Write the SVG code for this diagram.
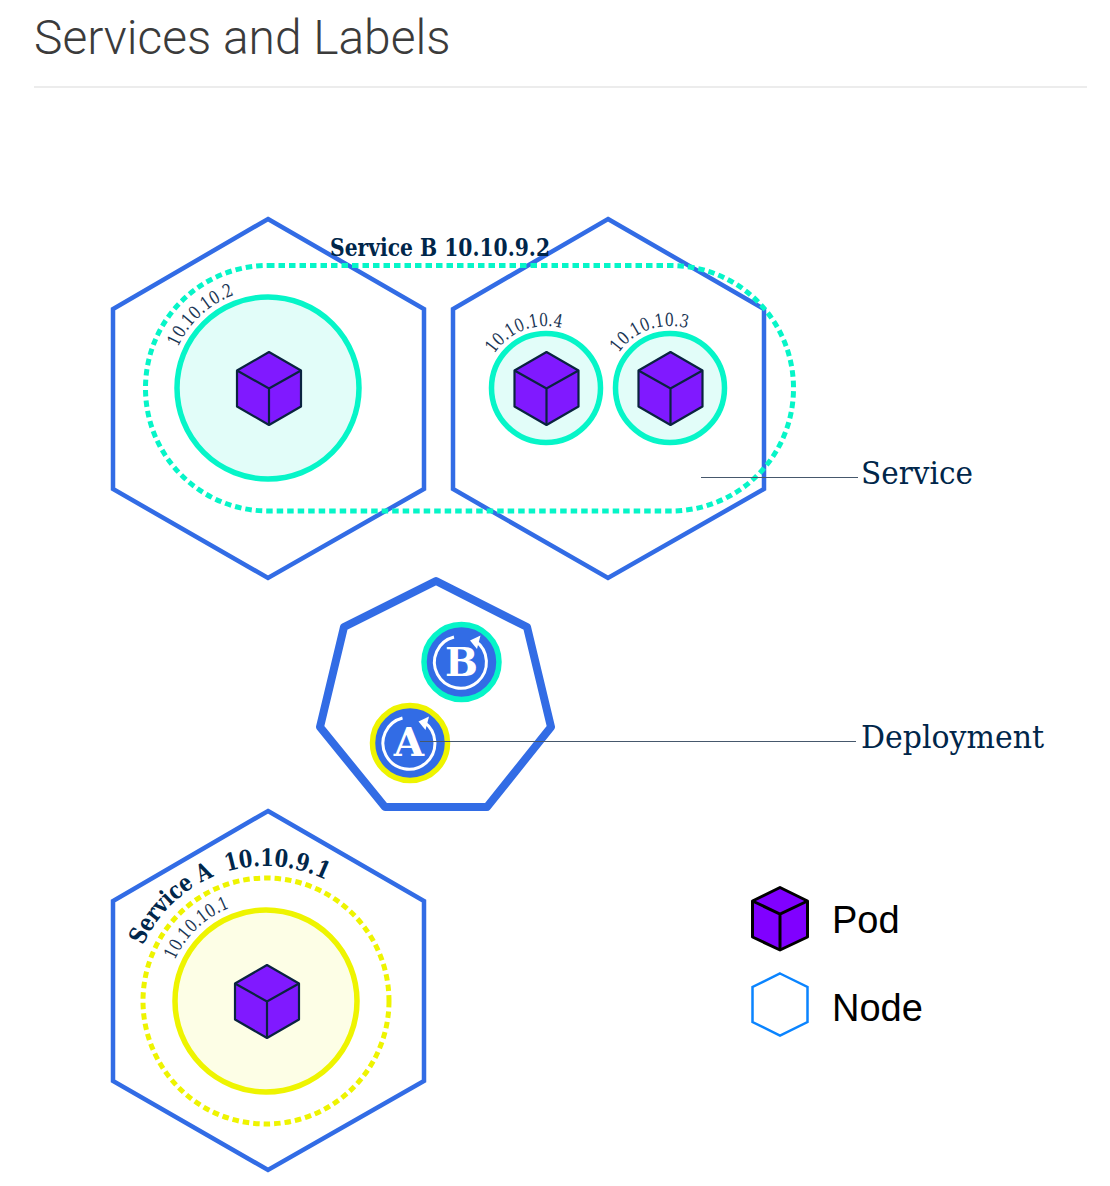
<svg xmlns="http://www.w3.org/2000/svg" width="1110" height="1186" viewBox="0 0 1110 1186">
<style>
.hex{fill:none;stroke:#326ce5;stroke-width:4.5;stroke-linejoin:miter}
.cyan{fill:#e2fdf9;stroke:#06f5c8;stroke-width:5.500}
.yel{fill:#fdfee6;stroke:#eef400;stroke-width:5.500}
.dc{fill:none;stroke:#06f5c8;stroke-width:5;stroke-dasharray:6.500 4}
.dy{fill:none;stroke:#eef400;stroke-width:5;stroke-dasharray:6.500 4}
.ip{font-family:"DejaVu Serif",serif;font-size:18px;font-weight:200;fill:#1b3654;}
.svc{font-family:"DejaVu Serif",serif;font-size:24px;font-weight:700;fill:#00264a}
.lab{font-family:"DejaVu Serif",serif;font-size:32px;fill:#00264a}
.leg{font-family:"Liberation Sans",Arial,sans-serif;font-size:38px;fill:#000}
.conn{stroke:#46586c;stroke-width:1.200;fill:none}
.let{font-family:"DejaVu Serif",serif;font-weight:700;font-size:39px;fill:#fff;text-anchor:middle}
</style>
<defs>
<g id="cube">
<path d="M0,-36.500L32,-18V18L0,36.500L-32,18V-18Z" fill="#8019ff" stroke="#0a2340" stroke-width="2.200" stroke-linejoin="round"/>
<path d="M-32,-18L0,0L32,-18M0,0V36.500" fill="none" stroke="#0a2340" stroke-width="2.200"/>
</g>
<g id="ring">
<path d="M-7.500,-25 A26,26 0 1 0 14,-21" fill="none" stroke="#fff" stroke-width="3"/>
<path d="M8.500,-21.500L19,-26.500L15.500,-13Z" fill="#fff"/>
</g>
<path id="p102" d="M169,388A99,99 0 1 1 367,388"/>
<path id="p104" d="M484,388A62,62 0 1 1 608,388"/>
<path id="p103" d="M608,388A62,62 0 1 1 732,388"/>
<path id="p101" d="M166,1001A100,100 0 1 1 366,1001"/>
<path id="psa" d="M131,1001A135,135 0 1 1 401,1001"/>
</defs>
<g id="title">
<text x="34" y="54" font-family="Roboto,sans-serif" font-weight="300" font-size="47.900" fill="#3b3b3b">Services and Labels</text>
<line x1="34" y1="87" x2="1087" y2="87" stroke="#e6e6e6" stroke-width="1.500"/>
</g>
<g id="node-1"><polygon class="hex" points="268,219 424,309 424,489 268,578 113,489 113,309"/></g>
<g id="node-2"><polygon class="hex" points="608,219 764,309 764,489 608,578 453,489 453,309"/></g>
<g id="service-b">
<rect class="dc" x="145.500" y="265.500" width="648" height="245.500" rx="122.500" ry="122.500"/>
<text class="svc" x="330" y="256" textLength="220" lengthAdjust="spacingAndGlyphs">Service B 10.10.9.2</text>
</g>
<g id="pod-102">
<circle class="cyan" cx="268" cy="388" r="91"/>
<use href="#cube" x="269" y="388.500"/>
<text class="ip"><textPath href="#p102" startOffset="42" textLength="79" lengthAdjust="spacingAndGlyphs">10.10.10.2</textPath></text>
</g>
<g id="pod-104">
<circle class="cyan" cx="546" cy="388" r="54.500"/>
<use href="#cube" x="546.500" y="388.500"/>
<text class="ip"><textPath href="#p104" startOffset="36" textLength="77" lengthAdjust="spacingAndGlyphs">10.10.10.4</textPath></text>
</g>
<g id="pod-103">
<circle class="cyan" cx="670" cy="388" r="54.500"/>
<use href="#cube" x="670.500" y="388.500"/>
<text class="ip"><textPath href="#p103" startOffset="37" textLength="78" lengthAdjust="spacingAndGlyphs">10.10.10.3</textPath></text>
</g>
<g id="deployment">
<polygon points="436,581 527,627 551,727 487,807 385,807 320,727 344,627" fill="none" stroke="#326ce5" stroke-width="8" stroke-linejoin="round"/>
</g>
<g id="deploy-b">
<circle cx="461.500" cy="662" r="37.500" fill="#326ce5" stroke="#06f5c8" stroke-width="5.500"/>
<use href="#ring" x="461.500" y="662"/>
<text class="let" x="461.500" y="676">B</text>
</g>
<g id="deploy-a">
<circle cx="410" cy="743" r="37.500" fill="#326ce5" stroke="#eef400" stroke-width="5.500"/>
<use href="#ring" x="410" y="743"/>
<text class="let" x="409" y="756">A</text>
</g>
<g id="connectors">
<line class="conn" x1="701" y1="477.500" x2="858" y2="477.500"/>
<line class="conn" x1="420" y1="741.500" x2="856" y2="741.500"/>
</g>
<g id="label-service"><text class="lab" x="861" y="484" textLength="112" lengthAdjust="spacingAndGlyphs">Service</text></g>
<g id="label-deployment"><text class="lab" x="861" y="748" textLength="183" lengthAdjust="spacingAndGlyphs">Deployment</text></g>
<g id="node-3"><polygon class="hex" points="268,811 424,901 424,1081 268,1170 113,1081 113,901"/></g>
<g id="service-a">
<circle class="dy" cx="266" cy="1001" r="123"/>
<text class="svc"><textPath href="#psa" startOffset="57" textLength="217" lengthAdjust="spacingAndGlyphs" xml:space="preserve">Service A  10.10.9.1</textPath></text>
</g>
<g id="pod-101">
<circle class="yel" cx="266" cy="1001" r="91"/>
<use href="#cube" x="267" y="1001.500"/>
<text class="ip"><textPath href="#p101" startOffset="42" textLength="78" lengthAdjust="spacingAndGlyphs">10.10.10.1</textPath></text>
</g>
<g id="legend-pod">
<path d="M780,887.500L807.500,901V937L780,950L752.500,937V901Z" fill="#8000ff" stroke="#000" stroke-width="3" stroke-linejoin="round"/>
<path d="M752.500,901L780,914L807.500,901M780,914V950" fill="none" stroke="#000" stroke-width="3"/>
<text class="leg" x="832" y="933">Pod</text>
</g>
<g id="legend-node">
<polygon points="780,973.500 807.500,987 807.500,1022 780,1035.500 752.500,1022 752.500,987" fill="#fff" stroke="#0a84ff" stroke-width="2.500"/>
<text class="leg" x="832" y="1021">Node</text>
</g>
</svg>
